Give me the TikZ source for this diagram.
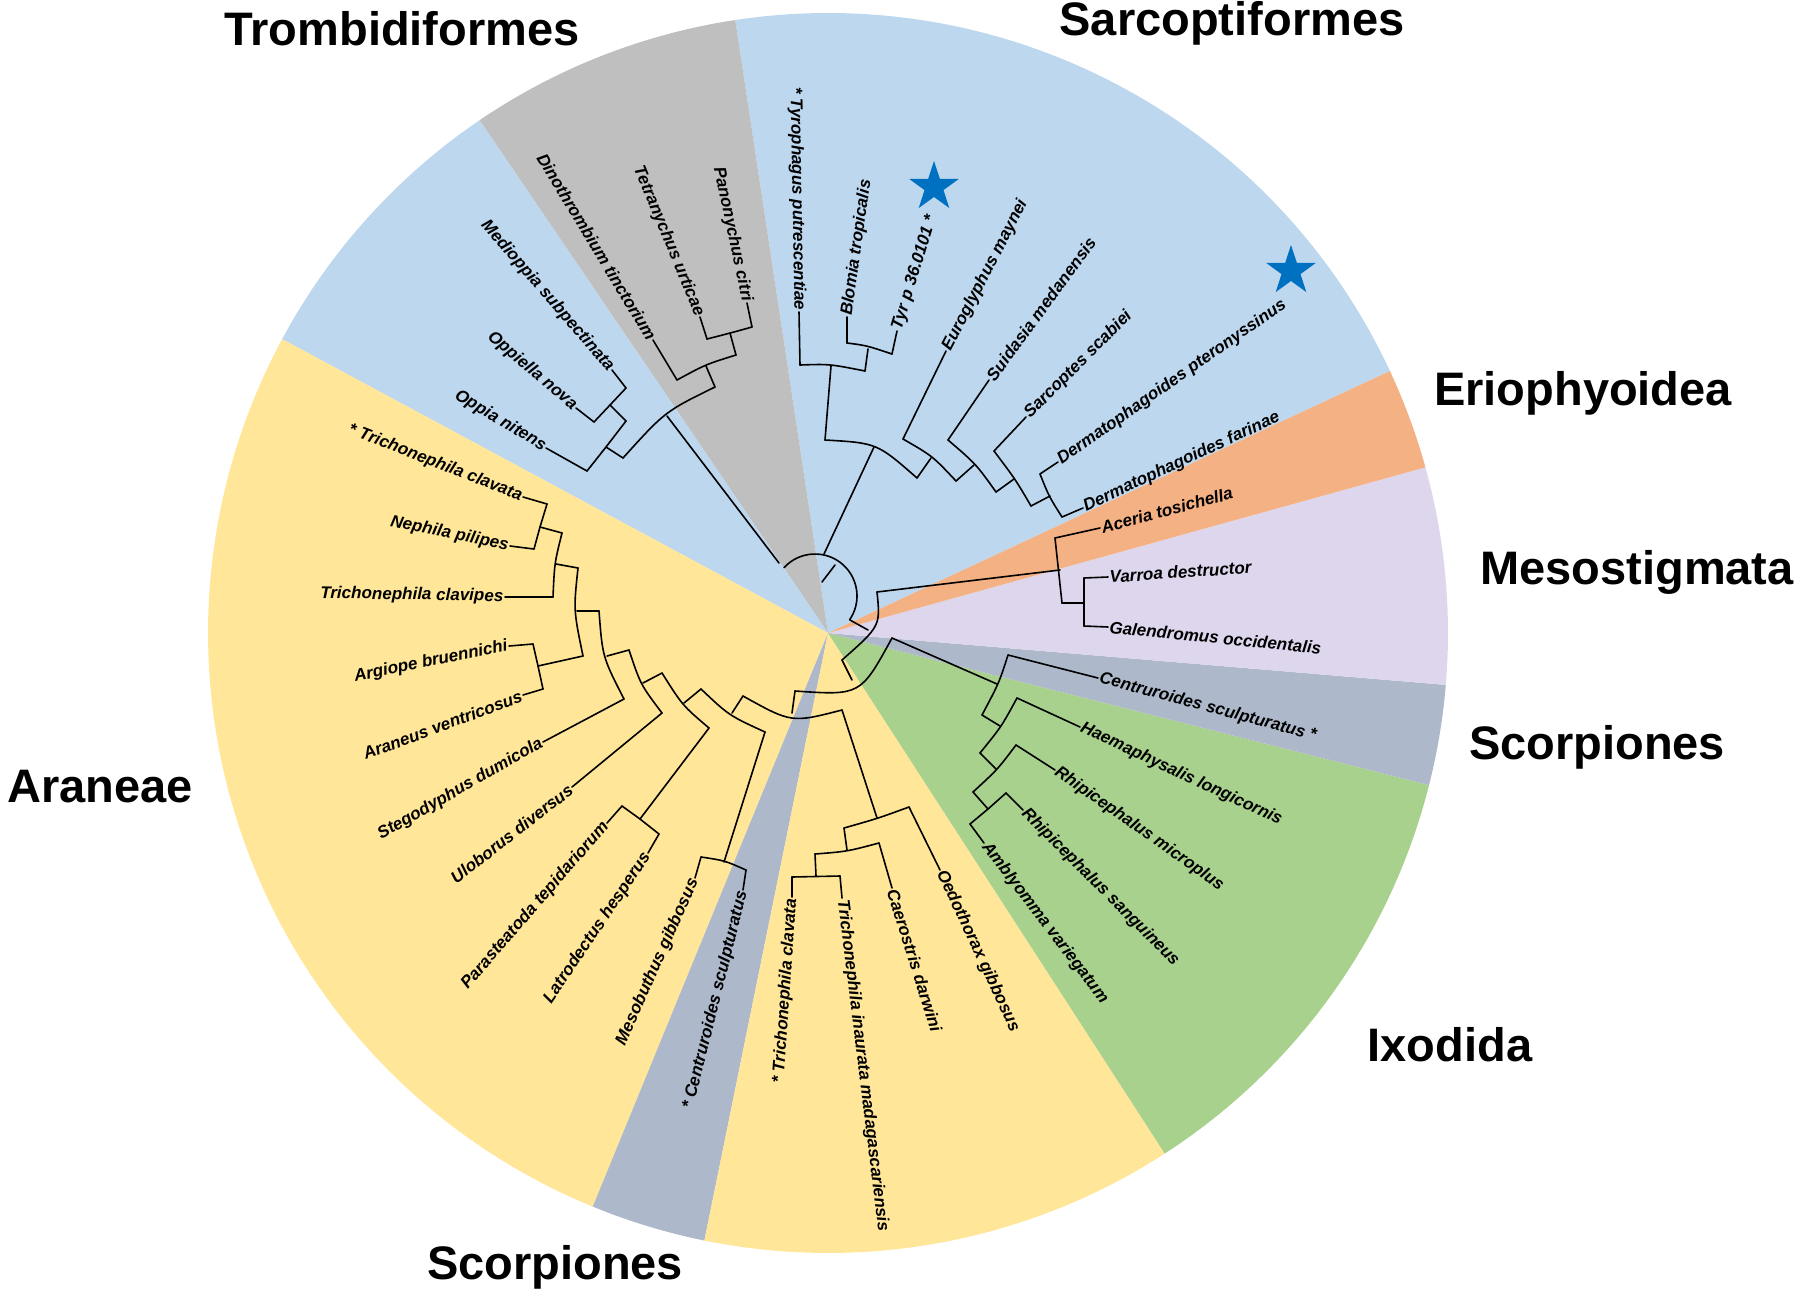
\documentclass[tikz,border=0pt]{standalone}
\usepackage{fontspec}
\setmainfont{Liberation Sans}
\usetikzlibrary{shapes.geometric}
\definecolor{cblue}{HTML}{BDD7EE}
\definecolor{cgray}{HTML}{BFBFBF}
\definecolor{cyel}{HTML}{FFE699}
\definecolor{cslate}{HTML}{ADB9CA}
\definecolor{cgreen}{HTML}{A9D18E}
\definecolor{clav}{HTML}{DED6EC}
\definecolor{corange}{HTML}{F4B183}
\definecolor{cstar}{HTML}{0070C0}
\tikzset{
 br/.style={line width=1.6pt,line cap=round,line join=round},
 lw/.style={font=\fontsize{17}{17}\selectfont\bfseries\itshape,inner sep=1.5pt,anchor=west},
 le/.style={font=\fontsize{17}{17}\selectfont\bfseries\itshape,inner sep=1.5pt,anchor=east},
 hdr/.style={font=\fontsize{47}{47}\selectfont\bfseries},
 starmark/.style={star,star points=5,star point ratio=2.6,minimum size=52pt,inner sep=0pt,fill=cstar}
}
\newcommand{\slice}[3]{\fill[#3] (828,633) -- +(-#1:620) arc[start angle=-#1,end angle=-#2,radius=620] -- cycle;}
\begin{document}
\begin{tikzpicture}[x=1pt,y=-1pt]
\useasboundingbox (0,0) rectangle (1801,1296);
\slice{25}{98.6}{cblue}
\slice{98.6}{124.2}{cgray}
\slice{124.2}{151.7}{cblue}
\slice{151.7}{247.7}{cyel}
\slice{247.7}{258.5}{cslate}
\slice{258.5}{302.9}{cyel}
\slice{302.9}{345.8}{cgreen}
\slice{345.8}{355.2}{cslate}
\slice{355.2}{375.5}{clav}
\slice{15.5}{25}{corange}
% headers
\node[hdr] (hT) at (402,29) {Trombidiformes};
\node[hdr] (hS) at (1232,23) {Sarcoptiformes};
\node[hdr] (hE) at (1583,393) {Eriophyoidea};
\node[hdr] (hM) at (1637,572) {Mesostigmata};
\node[hdr] (hSc) at (1597,747) {Scorpiones};
\node[hdr] (hI) at (1450,1045) {Ixodida};
\node[hdr] (hSc2) at (555,1267) {Scorpiones};
\node[hdr] (hA) at (100,787) {Araneae};
% stars
\node[starmark] (st1) at (934,187) {};
\node[starmark] (st2) at (1291,271) {};
% ---- tree ----
% root
\draw[br] ([shift={(-137.5:42)}]815,596) arc[start angle=-137.5,end angle=34.4,radius=42];
\draw[br] (822,582) -- (835,565);
\draw[br] (850,620) -- (868,630);
% Astigmata
\draw[br] (824,554) -- (874,447);
\draw[br] (825,440) .. controls (877,443) .. (917,478);
\draw[br] (831,366) -- (825,440);
\draw[br] (800,365) .. controls (829.5,364) .. (865,371);
\draw[br] (799,312) -- (800,365);
\draw[br] (868,349) -- (865,371);
\draw[br] (847,343) .. controls (866.5,345.5) .. (892,354);
\draw[br] (847,317) -- (847,343);
\draw[br] (897,331) -- (892,354);
\draw[br] (931,458) -- (917,478);
\draw[br] (903,439) .. controls (932.5,456) .. (956,481);
\draw[br] (946,351) -- (903,439);
\draw[br] (974,465) -- (956,481);
\draw[br] (948,440) .. controls (976,464) .. (996,492);
\draw[br] (989,380) -- (948,440);
\draw[br] (1014,479) -- (996,492);
\draw[br] (994,451) .. controls (1015.5,479.5) .. (1031,506);
\draw[br] (1026,417) -- (994,451);
\draw[br] (1050,496) -- (1031,506);
\draw[br] (1040,474) .. controls (1049,496.5) .. (1062,517);
\draw[br] (1058,462) -- (1040,474);
\draw[br] (1083,508) -- (1062,517);
% Oribatida + Trombidiformes
\draw[br] (667,416) -- (779,563);
\draw[br] (623,458) .. controls (665,411.5) .. (715,387);
\draw[br] (606,447) -- (623,458);
\draw[br] (626,421) -- (606,447) -- (587,471);
\draw[br] (546,448) -- (587,471);
\draw[br] (610,405) -- (626,421);
\draw[br] (626,388) -- (610,405) -- (594,422);
\draw[br] (612,370) -- (626,388);
\draw[br] (576,408) -- (594,422);
\draw[br] (706,366) -- (715,387);
\draw[br] (677,380) .. controls (705.5,364.5) .. (736,355);
\draw[br] (653,340) -- (677,380);
\draw[br] (730,333) -- (736,355);
\draw[br] (707,339) .. controls (730.5,333) .. (752,327);
\draw[br] (700,317) -- (707,339);
\draw[br] (747,303) -- (752,327);
% Eriophyoidea + Mesostigmata
\draw[br] (877,592) .. controls (880.5,626) .. (842,660);
\draw[br] (877,592) -- (1060,570);
\draw[br] (1055,538) -- (1062,603);
\draw[br] (1100,528) -- (1055,538);
\draw[br] (1062,603) -- (1084,603);
\draw[br] (1084,578) -- (1084,626);
\draw[br] (1108,577) -- (1084,578);
\draw[br] (1108,627) -- (1084,626);
% ticks + scorpion
\draw[br] (842,660) -- (852,680);
\draw[br] (892,638) .. controls (860.5,695.5) .. (795,691);
\draw[br] (892,638) -- (997,684);
\draw[br] (1008,655) .. controls (999,683) .. (982,715);
\draw[br] (1098,678) -- (1008,655);
\draw[br] (982,715) -- (1000,726);
\draw[br] (1017,698) .. controls (1001.5,726.5) .. (980,753);
\draw[br] (1080,727) -- (1017,698);
\draw[br] (980,753) -- (996,769);
\draw[br] (1016,745) .. controls (997.5,769.5) .. (973,792);
\draw[br] (1055,770) -- (1016,745);
\draw[br] (973,792) -- (988,809);
\draw[br] (1006,793) -- (988,809) -- (970,824);
\draw[br] (1023,810) -- (1006,793);
\draw[br] (984,843) -- (970,824);
% spiders + scorpions
\draw[br] (795,691) -- (792,713);
\draw[br] (743,696) .. controls (791.5,723) .. (842,710);
\draw[br] (842,710) -- (877,818);
\draw[br] (844,828) .. controls (877.5,818.5) .. (909,807);
\draw[br] (940,870) -- (909,807);
\draw[br] (844,828) -- (847,850);
\draw[br] (815,854) .. controls (847,851.5) .. (879,843);
\draw[br] (892,888) -- (879,843);
\draw[br] (815,854) -- (816,876);
\draw[br] (792,877) -- (840,876);
\draw[br] (792,897) -- (792,877);
\draw[br] (842,898) -- (840,876);
\draw[br] (732,713) -- (743,696);
\draw[br] (701,689) .. controls (729,715.5) .. (765,732);
\draw[br] (765,732) -- (724,862);
\draw[br] (701,857) .. controls (724.5,860.5) .. (746,870);
\draw[br] (695,878) -- (701,857);
\draw[br] (743,890) -- (746,870);
\draw[br] (684,703) -- (701,689);
\draw[br] (662,673) .. controls (682.5,705.5) .. (709,728);
\draw[br] (709,728) -- (640,819);
\draw[br] (622,806) -- (640,819) -- (659,834);
\draw[br] (607,823) -- (622,806);
\draw[br] (648,853) -- (659,834);
\draw[br] (643,683) -- (662,673);
\draw[br] (629,650) .. controls (640.5,684.5) .. (662,713);
\draw[br] (572,787) -- (662,713);
\draw[br] (607,656) -- (629,650);
\draw[br] (599,611) .. controls (602.5,657) .. (624,699);
\draw[br] (543,742) -- (624,699);
\draw[br] (577,611) -- (599,611);
\draw[br] (578,568) .. controls (573.5,610) .. (583,656);
\draw[br] (538,666) -- (583,656);
\draw[br] (533,644) -- (538,666) -- (543,689);
\draw[br] (509,646) -- (533,644);
\draw[br] (523,695) -- (543,689);
\draw[br] (556,564) -- (578,568);
\draw[br] (562,533) .. controls (554.5,563) .. (553,597);
\draw[br] (505,597) -- (553,597);
\draw[br] (540,527) -- (562,533);
\draw[br] (547,504) -- (540,527) -- (534,549);
\draw[br] (523,497) -- (547,504);
\draw[br] (510,546) -- (534,549);
% ---- labels ----
\node[le,rotate=-89] (l1) at (799,312) {* Tyrophagus putrescentiae};
\node[lw,rotate=82] (l2) at (847,317) {Blomia tropicalis};
\node[lw,rotate=73] (l3) at (897,331) {Tyr p 36.0101 *};
\node[lw,rotate=62.7] (l4) at (946,351) {Euroglyphus maynei};
\node[lw,rotate=53.8] (l5) at (989,380) {Suidasia medanensis};
\node[lw,rotate=45] (l6) at (1026,417) {Sarcoptes scabiei};
\node[lw,rotate=35] (l7) at (1058,462) {Dermatophagoides pteronyssinus};
\node[lw,rotate=25] (l8) at (1083,508) {Dermatophagoides farinae};
\node[le,rotate=-49] (l9) at (612,370) {Medioppia subpectinata};
\node[le,rotate=-40.4] (l10) at (576,408) {Oppiella nova};
\node[le,rotate=-30.8] (l11) at (546,448) {Oppia nitens};
\node[le,rotate=-58.9] (l12) at (653,340) {Dinothrombium tinctorium};
\node[le,rotate=-67.5] (l13) at (700,317) {Tetranychus urticae};
\node[le,rotate=-78] (l14) at (747,303) {Panonychus citri};
\node[le,rotate=-21.2] (l15) at (523,497) {* Trichonephila clavata};
\node[le,rotate=-11.5] (l16) at (510,546) {Nephila pilipes};
\node[le,rotate=-1] (l17) at (505,597) {Trichonephila clavipes};
\node[le,rotate=11.4] (l18) at (509,646) {Argiope bruennichi};
\node[le,rotate=20.4] (l19) at (523,695) {Araneus ventricosus};
\node[le,rotate=29.8] (l20) at (543,742) {Stegodyphus dumicola};
\node[le,rotate=37.8] (l21) at (572,787) {Uloborus diversus};
\node[le,rotate=49] (l22) at (607,823) {Parasteatoda tepidariorum};
\node[le,rotate=56] (l23) at (648,853) {Latrodectus hesperus};
\node[le,rotate=66] (l24) at (695,878) {Mesobuthus gibbosus};
\node[le,rotate=76] (l25) at (743,890) {* Centruroides sculpturatus};
\node[le,rotate=86] (l26) at (792,897) {* Trichonephila clavata};
\node[lw,rotate=-83] (l27) at (842,898) {Trichonephila inaurata madagascariensis};
\node[lw,rotate=-72.6] (l28) at (892,888) {Caerostris darwini};
\node[lw,rotate=-65] (l29) at (940,870) {Oedothorax gibbosus};
\node[lw,rotate=15] (l30) at (1100,528) {Aceria tosichella};
\node[lw,rotate=4] (l31) at (1108,577) {Varroa destructor};
\node[lw,rotate=-5.6] (l32) at (1108,627) {Galendromus occidentalis};
\node[lw,rotate=-15] (l33) at (1098,678) {Centruroides sculpturatus *};
\node[lw,rotate=-25] (l34) at (1080,727) {Haemaphysalis longicornis};
\node[lw,rotate=-35] (l35) at (1055,770) {Rhipicephalus microplus};
\node[lw,rotate=-45] (l36) at (1023,810) {Rhipicephalus sanguineus};
\node[lw,rotate=-52.7] (l37) at (984,843) {Amblyomma variegatum};
\end{tikzpicture}
\end{document}
